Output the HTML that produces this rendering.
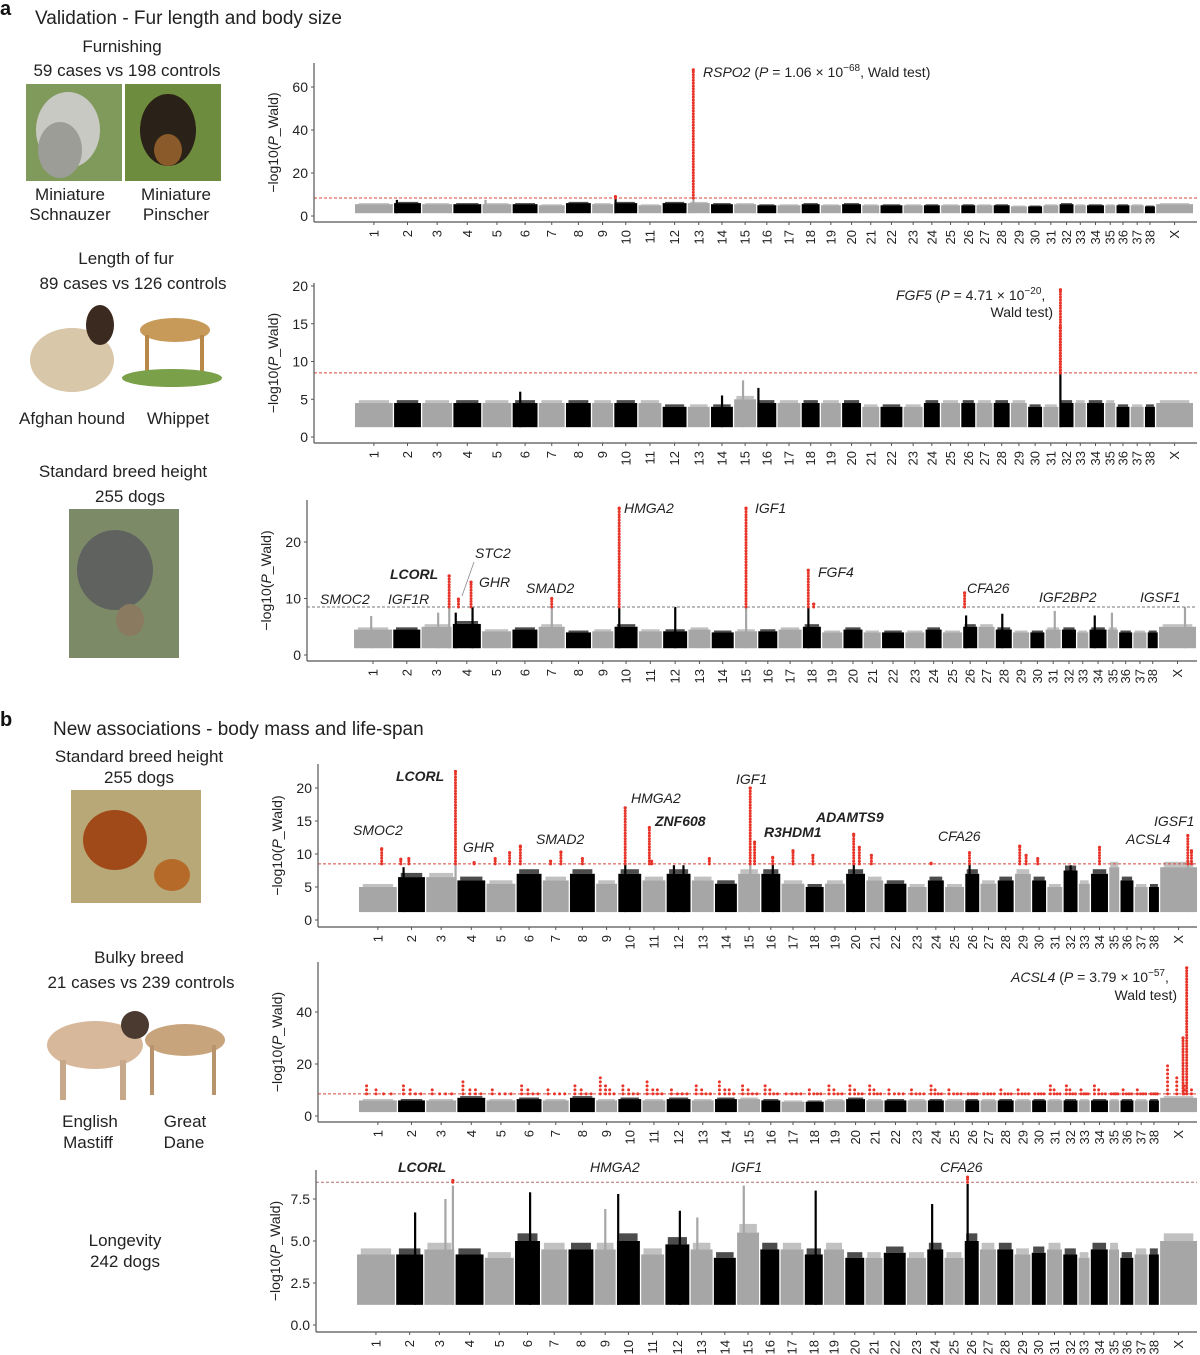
<!DOCTYPE html>
<html><head><meta charset="utf-8"><style>
html,body{margin:0;padding:0;background:#fff;}
svg{display:block;font-family:"Liberation Sans",Arial,sans-serif;}
.lbl{font-size:17px;fill:#222;text-anchor:middle;}
.gene{font-size:14px;font-style:italic;fill:#222;}
.bold{font-weight:bold;}
.tick{font-size:14px;fill:#222;}
.xt{font-size:13px;fill:#222;}
</style></head><body>
<svg id="fig" width="1200" height="1355" viewBox="0 0 1200 1355">
<g>
<text x="0" y="15" font-size="20" font-weight="bold" fill="#111">a</text>
<text x="35" y="24" font-size="19" fill="#222">Validation - Fur length and body size</text>
</g>
<g>
<text class="lbl" x="122" y="52">Furnishing</text>
<text class="lbl" x="127" y="76">59 cases vs 198 controls</text>
<rect x="26" y="84" width="96" height="97" fill="#7f9a5a"/>
<ellipse cx="68" cy="130" rx="32" ry="38" fill="#c9c9c4"/><ellipse cx="60" cy="150" rx="22" ry="28" fill="#9d9d98"/>
<rect x="125" y="84" width="96" height="97" fill="#6e8c3e"/>
<ellipse cx="168" cy="130" rx="28" ry="36" fill="#2a2118"/><ellipse cx="168" cy="150" rx="14" ry="16" fill="#8a5a2a"/>
<text class="lbl" x="70" y="200">Miniature</text>
<text class="lbl" x="70" y="220">Schnauzer</text>
<text class="lbl" x="176" y="200">Miniature</text>
<text class="lbl" x="176" y="220">Pinscher</text>
<text class="lbl" x="126" y="264">Length of fur</text>
<text class="lbl" x="133" y="289">89 cases vs 126 controls</text>
<g>
<ellipse cx="72" cy="360" rx="42" ry="32" fill="#d8c7a8"/><ellipse cx="100" cy="325" rx="14" ry="20" fill="#3a2a20"/>
<ellipse cx="175" cy="330" rx="35" ry="12" fill="#c89a5a"/><rect x="145" y="335" width="4" height="40" fill="#b78848"/><rect x="200" y="335" width="4" height="40" fill="#b78848"/>
<ellipse cx="172" cy="378" rx="50" ry="9" fill="#7aa04a"/>
</g>
<text class="lbl" x="72" y="424">Afghan hound</text>
<text class="lbl" x="178" y="424">Whippet</text>
<text class="lbl" x="123" y="477">Standard breed height</text>
<text class="lbl" x="130" y="502">255 dogs</text>
<rect x="69" y="509" width="110" height="149" fill="#7d8a68"/>
<ellipse cx="115" cy="570" rx="38" ry="40" fill="#5f625f"/><ellipse cx="130" cy="620" rx="14" ry="16" fill="#8a7a60"/>
<text x="0" y="726" font-size="20" font-weight="bold" fill="#111">b</text>
<text x="53" y="735" font-size="19" fill="#222">New associations - body mass and life-span</text>
<text class="lbl" x="139" y="762">Standard breed height</text>
<text class="lbl" x="139" y="783">255 dogs</text>
<rect x="71" y="790" width="130" height="113" fill="#b8a878"/>
<ellipse cx="115" cy="840" rx="32" ry="30" fill="#a04a1a"/><ellipse cx="172" cy="875" rx="18" ry="16" fill="#b56a2a"/>
<text class="lbl" x="139" y="963">Bulky breed</text>
<text class="lbl" x="141" y="988">21 cases vs 239 controls</text>
<g>
<ellipse cx="95" cy="1045" rx="48" ry="24" fill="#d7b89a"/><ellipse cx="135" cy="1025" rx="14" ry="14" fill="#4a3a30"/>
<ellipse cx="185" cy="1040" rx="40" ry="16" fill="#c8a47c"/><rect x="150" y="1045" width="4" height="50" fill="#b8946c"/><rect x="212" y="1045" width="4" height="50" fill="#b8946c"/>
<rect x="60" y="1060" width="6" height="40" fill="#c8a88a"/><rect x="120" y="1060" width="6" height="40" fill="#c8a88a"/>
</g>
<text class="lbl" x="90" y="1127">English</text>
<text class="lbl" x="88" y="1148">Mastiff</text>
<text class="lbl" x="185" y="1127">Great</text>
<text class="lbl" x="184" y="1148">Dane</text>
<text class="lbl" x="125" y="1246">Longevity</text>
<text class="lbl" x="125" y="1267">242 dogs</text>
</g>
<g id="plots"></g>
</svg>
<script>
const chromNames=["1","2","3","4","5","6","7","8","9","10","11","12","13","14","15","16","17","18","19","20","21","22","23","24","25","26","27","28","29","30","31","32","33","34","35","36","37","38","X"];
const chromLengths=[38,27,30,28,29,25,26,25,21,23,23,24,22,22,22,19,23,18,20,19,17,22,19,16,19,14,16,16,16,14,15,14,11,17,10,13,13,10,37];

const topsA1=[5.5,6,5.5,5.5,5.5,5.5,5,6,5.5,6,5,6,6,5.5,5.5,5,5,5.5,5,5.5,5,5,5,5,5,5,5,5,4.5,4.5,5,5.5,5,5,5,5,5,4.5,5.5];
const spikesA1=[[2,0.1,7.5],[10,0.05,8],[13,0.25,8],[5,0.1,7.5]];
const redA1=[[10,0.05,9],[13,0.25,68]];
const topsA2=[4.5,4.5,4.5,4.5,4.5,4.5,4.5,4.5,4.5,4.5,4.5,4,4,4,5,4.5,4.5,4.5,4.5,4.5,4,4,4,4.5,4.5,4.5,4.5,4.5,4.5,4,4,4.5,4.5,4.5,4.5,4,4,4,4.5];
const spikesA2=[[6,0.3,6],[15,0.4,7.5],[16,0.05,6.5],[32,0.05,9],[14,0.5,5.5]];
const redA2=[[32,0.05,14.5],[32,0.06,19.5]];
const topsA3=[4.5,4.5,5,5.5,4.2,4.5,5,4,4.2,5,4.2,4.2,4.5,4,4.2,4.2,4.5,5,4,4.5,4,4,4,4.5,4,5,5,4.5,4,4,4.5,4.5,4,4.5,4.5,4,4,4,5];
const spikesA3=[[1,0.45,6.9],[3,0.55,7.5],[3,0.92,8.5],[4,0.1,7.5],[4,0.7,8.5],[7,0.5,8.5],[10,0.2,8.5],[12,0.5,8.5],[15,0.5,8.5],[18,0.3,8.5],[26,0.2,7],[28,0.4,7.3],[31,0.6,7.8],[34,0.3,7],[35,0.4,7.5],[39,0.7,8.5]];
const redA3=[[3,0.92,14],[4,0.2,9.9],[4,0.65,12.9],[7,0.5,10],[10,0.2,26],[15,0.5,26],[18,0.3,15],[18,0.6,9],[26,0.1,11]];
const topsB1=[5,6.5,6.5,6,5.5,7,6,7,5.5,7,6,7,6,5.5,7,7,5.5,5,5.5,7,6,5.5,5,6,5,7,5.5,6,7,6,5,7.5,5.5,7,8,6,5,5,8];
const spikesB1=[[3,0.98,8.4],[10,0.3,8.4],[12,0.3,8.3],[12,0.7,8.3],[15,0.55,8.4],[16,0.6,8.4],[20,0.4,8.4],[26,0.3,8.4],[32,0.5,8.3],[39,0.75,8.5],[2,0.2,8]];
const redB1=[[1,0.6,10.8],[2,0.1,9.2],[2,0.4,9.3],[3,0.98,22.5],[4,0.6,8.7],[5,0.3,9.3],[5,0.8,10.2],[6,0.15,11.2],[7,0.3,8.9],[7,0.7,10.3],[8,0.5,9.3],[10,0.3,17],[11,0.3,14],[11,0.4,8.9],[13,0.8,9.3],[15,0.55,20],[15,0.75,11.8],[16,0.6,9.5],[17,0.5,10.5],[18,0.4,9.8],[20,0.4,13],[20,0.7,11],[21,0.3,9.8],[24,0.2,8.6],[26,0.3,10.2],[29,0.3,11.2],[29,0.7,9.8],[30,0.4,9.3],[34,0.5,11],[39,0.75,12.8],[39,0.85,10.5]];
const topsB2=[6,6,6,7,6,6.5,6,7,6,6.5,6,6.5,6,6.5,6.5,6,5.5,5.5,6,6.5,6,6,6,6,6,6,6,6,6,6,6,6,6,6,6,6,6,6,7];
const redMaxB2=[12,12,11,14,10,12,11,12,15,13,14,11,13,14,13,12,9,11,12,13,12,11,10,12,11,9.5,9,11,10,9,12,13,11,13,9,11,10,9,20];
const redB2=[[39,0.72,57],[39,0.62,30]];
const topsB3=[4.2,4.2,4.5,4.2,4,5,4.5,4.5,4.5,5,4.2,4.8,4.5,4,5.5,4.5,4.5,4.2,4.5,4,4,4.3,4,4.5,4,5,4.5,4.5,4.2,4.3,4.5,4.2,4,4.5,4.5,4,4.2,4.2,5];
const spikesB3=[[3,0.95,8.3],[6,0.6,7.9],[10,0.05,7.8],[15,0.3,8.3],[18,0.6,8],[24,0.3,7.2],[26,0.2,8.4],[2,0.7,6.7],[12,0.6,6.8],[3,0.7,7.5],[9,0.5,6.9],[13,0.3,6.4]];
const redB3=[[3,0.95,8.6],[26,0.2,8.8]];

const panels=[
 {id:"a1",ax:314,x0:355,x1:1193,zero:216,ppu:2.15,axY:222,topY:63,ticks:[0,20,40,60],lab:["0","20","40","60"],base:1.3,thr:8.4,thrCol:"#d9463b",tops:topsA1,spikes:spikesA1,red:redA1},
 {id:"a2",ax:314,x0:355,x1:1193,zero:437,ppu:7.55,axY:443,topY:283,ticks:[0,5,10,15,20],lab:["0","5","10","15","20"],base:1.3,thr:8.5,thrCol:"#d9463b",tops:topsA2,spikes:spikesA2,red:redA2},
 {id:"a3",ax:307,x0:354,x1:1196,zero:655,ppu:5.65,axY:661,topY:500,ticks:[0,10,20],lab:["0","10","20"],base:1.2,thr:8.5,thrCol:"#777",tops:topsA3,spikes:spikesA3,red:redA3},
 {id:"b1",ax:318,x0:359,x1:1197,zero:920,ppu:6.6,axY:927,topY:764,ticks:[0,5,10,15,20],lab:["0","5","10","15","20"],base:1.2,thr:8.5,thrCol:"#d9463b",tops:topsB1,spikes:spikesB1,red:redB1},
 {id:"b2",ax:318,x0:359,x1:1197,zero:1116,ppu:2.6,axY:1122,topY:962,ticks:[0,20,40],lab:["0","20","40"],base:1.5,thr:8.5,thrCol:"#d9463b",tops:topsB2,spikes:[],red:redB2,redMax:redMaxB2},
 {id:"b3",ax:316,x0:357,x1:1197,zero:1325,ppu:16.8,axY:1332,topY:1170,ticks:[0,2.5,5,7.5],lab:["0.0","2.5","5.0","7.5"],base:1.2,thr:8.5,thrCol:"#b07070",tops:topsB3,spikes:spikesB3,red:redB3}
];
const NS="http://www.w3.org/2000/svg";
const root=document.getElementById("plots");
function mk(tag,attrs,parent){const e=document.createElementNS(NS,tag);for(const k in attrs)e.setAttribute(k,attrs[k]);parent.appendChild(e);return e;}
const RED="#e8352a",GRAY="#a6a6a6";
panels.forEach(p=>{
 const g=mk("g",{},root);
 
 
 const gap=1.3,total=chromLengths.reduce((a,b)=>a+b,0);
 const scale=(p.x1-p.x0-gap*(chromLengths.length-1))/total;
 const starts=[];let cx=p.x0;
 chromLengths.forEach(L=>{starts.push(cx);cx+=L*scale+gap;});
 const xOf=(c,f)=>starts[c-1]+f*chromLengths[c-1]*scale;
 const yOf=v=>p.zero-v*p.ppu;
 const col=i=>(i%2===0)?GRAY:"#000";
 chromLengths.forEach((L,i)=>{
  const r=mk("rect",{x:starts[i],y:yOf(p.tops[i]),width:L*scale,height:yOf(p.base)-yOf(p.tops[i]),fill:col(i)},g);
  
  
  const r2=mk("rect",{x:starts[i]+L*scale*0.1,y:yOf(p.tops[i]+0.12*(p.tops[i]-p.base)),width:L*scale*0.8,height:yOf(p.tops[i])-yOf(p.tops[i]+0.12*(p.tops[i]-p.base)),fill:col(i),opacity:0.7},g);
  
  
 });
 p.spikes.forEach(s=>{
  const x=xOf(s[0],s[1]);
  const l=mk("rect",{x:x-1,y:yOf(s[2]),width:2.2,height:yOf(p.base)-yOf(s[2]),fill:col(s[0]-1)},g);
  
  
 });
 const t=mk("line",{x1:p.ax,x2:1197,y1:yOf(p.thr),y2:yOf(p.thr),stroke:p.thrCol,"stroke-width":1,"stroke-dasharray":"3,2"},g);
 
 
 p.red.forEach(s=>{
  const x=xOf(s[0],s[1]);
  const yT=yOf(s[2]),yB=yOf(p.thr);
  const gr=mk("g",{},g);
  
  
  for(let y=yB;y>=yT-0.1;y-=2.8){mk("circle",{cx:x,cy:y,r:1.5,fill:RED},gr);}
  mk("circle",{cx:x,cy:yT,r:1.6,fill:RED},gr);
 });
 if(p.redMax){
  p.redMax.forEach((m,i)=>{
   const gr=mk("g",{},g);
   
   
   [[0.2,1],[0.45,0.55],[0.65,0.3],[0.85,0.15]].forEach(q=>{
    const v=p.thr+(m-p.thr)*q[1];
    const x=xOf(i+1,q[0]);
    for(let y=yOf(p.thr);y>=yOf(v)-0.1;y-=4)mk("circle",{cx:x,cy:y,r:1.5,fill:RED},gr);
   });
  });
 }
 const ya=mk("line",{x1:p.ax,x2:p.ax,y1:p.topY,y2:p.axY,stroke:"#555","stroke-width":1.2},g);
 
 
 const xa=mk("line",{x1:p.ax,x2:1197,y1:p.axY,y2:p.axY,stroke:"#555","stroke-width":1.2},g);
 
 
 p.ticks.forEach((v,k)=>{
  mk("line",{x1:p.ax-3,x2:p.ax,y1:yOf(v),y2:yOf(v),stroke:"#555"},g);
  const tx=mk("text",{x:p.ax-6,y:yOf(v)+5,"text-anchor":"end",class:"tick"},g);
  tx.textContent=p.lab[k];
  
  
 });
 chromNames.forEach((n,i)=>{
  const x=xOf(i+1,0.5);
  mk("line",{x1:x,x2:x,y1:p.axY,y2:p.axY+3,stroke:"#555"},g);
  const tx=mk("text",{transform:"translate("+(x+4.5)+","+(p.axY+8)+") rotate(-90)","text-anchor":"end",class:"xt"},g);
  tx.textContent=n;
  
  
 });
 const yt=mk("text",{transform:"translate("+(p.ax-36)+","+((p.topY+p.axY)/2)+") rotate(-90)","text-anchor":"middle",class:"tick"},g);
 yt.innerHTML='\u2212log10(<tspan font-style="italic">P</tspan>_Wald)';
 
 
});
</script>
<script>
const labs=[
 [320,604,"SMOC2",false],[388,604,"IGF1R",false],[390,579,"LCORL",true],[475,558,"STC2",false],[479,587,"GHR",false],[526,593,"SMAD2",false],
 [624,513,"HMGA2",false],[755,513,"IGF1",false],[818,577,"FGF4",false],[967,593,"CFA26",false],[1039,602,"IGF2BP2",false],[1140,602,"IGSF1",false],
 [396,781,"LCORL",true],[353,835,"SMOC2",false],[463,852,"GHR",false],[536,844,"SMAD2",false],[631,803,"HMGA2",false],[655,826,"ZNF608",true],
 [736,784,"IGF1",false],[764,837,"R3HDM1",true],[816,822,"ADAMTS9",true],[938,841,"CFA26",false],[1154,826,"IGSF1",false],[1126,844,"ACSL4",false],
 [398,1172,"LCORL",true],[590,1172,"HMGA2",false],[731,1172,"IGF1",false],[940,1172,"CFA26",false]
];
const svgEl=document.getElementById("fig");
labs.forEach(l=>{
 const t=document.createElementNS("http://www.w3.org/2000/svg","text");
 t.setAttribute("x",l[0]);t.setAttribute("y",l[1]);
 t.setAttribute("class","gene"+(l[3]?" bold":""));
 t.textContent=l[2];
 
 
 svgEl.appendChild(t);
});
function ann(x,y,html,name,anchor){
 const t=document.createElementNS("http://www.w3.org/2000/svg","text");
 t.setAttribute("x",x);t.setAttribute("y",y);t.setAttribute("font-size","14");t.setAttribute("fill","#222");
 if(anchor)t.setAttribute("text-anchor",anchor);
 t.innerHTML=html;
 
 
 svgEl.appendChild(t);
}
ann(703,77,'<tspan font-style="italic">RSPO2</tspan> (<tspan font-style="italic">P</tspan> = 1.06 × 10<tspan dy="-6" font-size="10">−68</tspan><tspan dy="6">, Wald test)</tspan>',"rspo2-annotation");
ann(896,300,'<tspan font-style="italic">FGF5</tspan> (<tspan font-style="italic">P</tspan> = 4.71 × 10<tspan dy="-6" font-size="10">−20</tspan><tspan dy="6">,</tspan>',"fgf5-annotation");
ann(1053,317,'Wald test)',"fgf5-annotation-2","end");
ann(1011,982,'<tspan font-style="italic">ACSL4</tspan> (<tspan font-style="italic">P</tspan> = 3.79 × 10<tspan dy="-6" font-size="10">−57</tspan><tspan dy="6">,</tspan>',"acsl4-annotation");
ann(1177,1000,'Wald test)',"acsl4-annotation-2","end");
const ln=document.createElementNS("http://www.w3.org/2000/svg","line");
ln.setAttribute("x1",474);ln.setAttribute("y1",562);ln.setAttribute("x2",462);ln.setAttribute("y2",596);ln.setAttribute("stroke","#888");ln.setAttribute("stroke-width","0.8");


svgEl.appendChild(ln);
</script>
</body></html>
